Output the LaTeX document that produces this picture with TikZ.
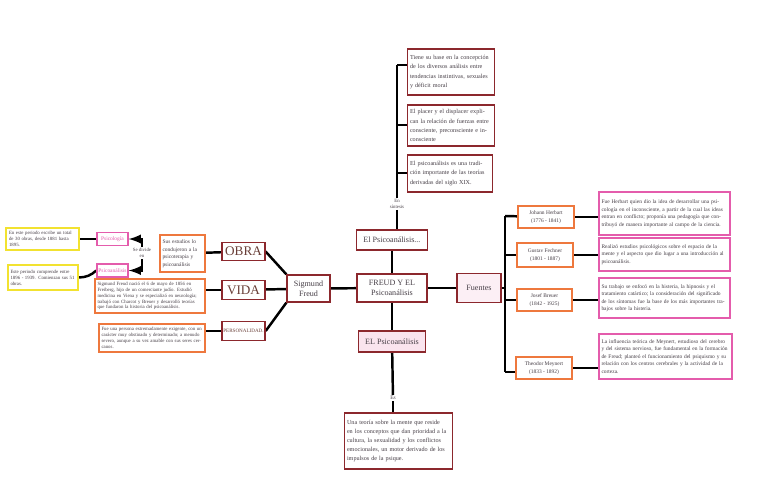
\documentclass[tikz,border=0pt]{standalone}
\usepackage{fontspec}
\setmainfont{Liberation Serif}
\usepackage{tikz}
\pgfdeclarelayer{edgelayer}
\pgfdeclarelayer{nodelayer}
\pgfsetlayers{edgelayer,nodelayer,main}
\definecolor{boxred}{RGB}{140,40,45}
\definecolor{boxorange}{RGB}{238,120,62}
\definecolor{boxpink}{RGB}{228,92,172}
\definecolor{boxyellow}{RGB}{242,226,48}
\definecolor{inkgray}{RGB}{70,62,70}
\definecolor{inkbrown}{RGB}{105,62,55}
\definecolor{psicfill}{RGB}{250,228,238}
\newcommand{\fsa}{\fontsize{3.5}{5.2}\selectfont}
\newcommand{\fsb}{\fontsize{3.1}{4.3}\selectfont}
\newcommand{\fsc}{\fontsize{2.75}{3.35}\selectfont}
\newcommand{\fsd}{\fontsize{4.6}{5.6}\selectfont}
\tikzstyle{edge}=[draw=black, line width=1.4pt]
\tikzstyle{redbox}=[draw=boxred, line width=0.7pt, fill=white, text=inkgray, inner sep=1.5pt, align=left]
\tikzstyle{orangebox}=[draw=boxorange, line width=0.8pt, fill=white, text=inkgray, inner sep=1.5pt, align=left]
\tikzstyle{pinkbox}=[draw=boxpink, line width=0.8pt, fill=white, text=inkgray, inner sep=1.5pt, align=left]
\tikzstyle{yellowbox}=[draw=boxyellow, line width=1pt, fill=white, text=inkgray, inner sep=1.5pt, align=left]
\tikzstyle{label}=[text=inkgray, inner sep=0.6pt, align=center, font=\fsc]

\begin{document}
\begin{tikzpicture}[x=0.02cm, y=-0.02cm]
			\useasboundingbox (0,0) rectangle (768,497);
			\begin{pgfonlayer}{nodelayer}
			% centre column
			\node [style=redbox, align=center, minimum width=1.4cm, minimum height=0.56cm, font=\fsd] (0) at (392, 288) {FREUD Y EL\\Psicoanálisis};
			\node [style=redbox, minimum width=1.42cm, minimum height=0.4cm, font=\fsd] (1) at (392, 240) {El Psicoanálisis...};
			\node [style=label] (2) at (397, 204) {En\\síntesis};
			\node [style=redbox, text width=1.64cm, minimum height=0.92cm, font=\fsa] (3) at (451, 72) {Tiene su base en la concepción de los diversos análisis entre tendencias instintivas, sexuales y déficit moral};
			\node [style=redbox, text width=1.64cm, minimum height=0.82cm, font=\fsa] (4) at (451, 125.5) {El placer y el displacer explican la relación de fuerzas entre consciente, preconsciente e inconsciente};
			\node [style=redbox, text width=1.6cm, minimum height=0.74cm, font=\fsa] (5) at (450, 173.5) {El psicoanálisis es una tradición importante de las teorías derivadas del siglo XIX.};
			\node [style=redbox, fill=psicfill, minimum width=1.34cm, minimum height=0.42cm, font=\fsd] (6) at (392, 341.5) {EL Psicoanálisis};
			\node [style=label, font=\fsb] (7) at (393, 398) {Es};
			\node [style=redbox, text width=2.06cm, minimum height=1.12cm, font=\fsa] (8) at (398.5, 441) {Una teoría sobre la mente que reside en los conceptos que dan prioridad a la cultura, la sexualidad y los conflictos emocionales, un motor derivado de los impulsos de la psique.};
			% left side
			\node [style=redbox, align=center, minimum width=0.86cm, minimum height=0.54cm, font=\fsd] (9) at (308.5, 288.5) {Sigmund\\Freud};
			\node [style=redbox, text=inkbrown, align=center, minimum width=0.86cm, minimum height=0.37cm, font=\fontsize{7.5}{8}\selectfont] (10) at (243.5, 251.5) {OBRA};
			\node [style=redbox, text=inkbrown, align=center, minimum width=0.86cm, minimum height=0.37cm, font=\fontsize{7.5}{8}\selectfont] (11) at (243.5, 290) {VIDA};
			\node [style=redbox, text=inkbrown, align=center, minimum width=0.86cm, minimum height=0.37cm, inner sep=0.8pt, font=\fontsize{2.9}{3.2}\selectfont] (12) at (243.5, 331) {PERSONALIDAD.};
			\node [style=orangebox, text width=0.8cm, minimum height=0.74cm, font=\fsb] (13) at (182.5, 253.5) {Sus estudios lo condujeron a la psicoterapia y psicoanálisis};
			\node [style=orangebox, text width=2.1cm, minimum height=0.68cm, font=\fsc] (14) at (150, 296) {Sigmund Freud nació el 6 de mayo de 1856 en Freiberg, hijo de un comerciante judío. Estudió medicina en Viena y se especializó en neurología; trabajó con Charcot y Breuer y desarrolló teorías que fundaron la historia del psicoanálisis.};
			\node [style=orangebox, text width=2.02cm, minimum height=0.56cm, font=\fsc] (15) at (152, 338) {Fue una persona extremadamente exigente, con un carácter muy obstinado y determinado; a menudo severo, aunque a su vez amable con sus seres cercanos.};
			\node [style=label] (16) at (142, 253) {Se divide\\en};
			\node [style=pinkbox, text=boxpink, align=center, minimum width=0.62cm, minimum height=0.26cm, inner sep=0.5pt, font=\fsb] (17) at (112.5, 239) {Psicología};
			\node [style=pinkbox, text=boxpink, align=center, minimum width=0.62cm, minimum height=0.26cm, inner sep=0.5pt, font=\fsb] (18) at (112.5, 270.5) {Psicoanálisis};
			\node [style=yellowbox, text width=1.34cm, minimum height=0.44cm, font=\fsc] (19) at (42.5, 239) {En este periodo escribe un total de 30 obras, desde 1881 hasta 1895.};
			\node [style=yellowbox, text width=1.3cm, minimum height=0.5cm, font=\fsc] (20) at (43, 277.5) {Este periodo comprende entre 1896 - 1939. Comienzan sus 51 obras.};
			% right side
			\node [style=redbox, fill=psicfill!60, align=center, minimum width=0.88cm, minimum height=0.58cm, font=\fsd] (21) at (479, 288) {Fuentes};
			\node [style=orangebox, align=center, minimum width=1.12cm, minimum height=0.44cm, font=\fsb] (22) at (546, 217) {Johann Herbart\\(1776 - 1841)};
			\node [style=orangebox, align=center, minimum width=1.12cm, minimum height=0.48cm, font=\fsb] (23) at (545, 255) {Gustav Fechner\\(1801 - 1887)};
			\node [style=orangebox, align=center, minimum width=1.1cm, minimum height=0.44cm, font=\fsb] (24) at (544.5, 300) {Josef Breuer\\(1842 - 1925)};
			\node [style=orangebox, align=center, minimum width=1.12cm, minimum height=0.44cm, font=\fsb] (25) at (544, 368) {Theodor Meynert\\(1833 - 1892)};
			\node [style=pinkbox, text width=2.52cm, minimum height=0.86cm, font=\fsb] (26) at (664.5, 213.5) {Fue Herbart quien dio la idea de desarrollar una psicología en el inconsciente, a partir de la cual las ideas entran en conflicto; proponía una pedagogía que contribuyó de manera importante al campo de la ciencia.};
			\node [style=pinkbox, text width=2.52cm, minimum height=0.66cm, font=\fsb] (27) at (664.5, 254.5) {Realizó estudios psicológicos sobre el espacio de la mente y el aspecto que dio lugar a una introducción al psicoanálisis.};
			\node [style=pinkbox, text width=2.52cm, minimum height=0.8cm, font=\fsb] (28) at (664.5, 298) {Su trabajo se enfocó en la histeria, la hipnosis y el tratamiento catártico; la consideración del significado de los síntomas fue la base de los más importantes trabajos sobre la histeria.};
			\node [style=pinkbox, text width=2.56cm, minimum height=0.9cm, font=\fsb] (29) at (665.5, 356.5) {La influencia teórica de Meynert, estudioso del cerebro y del sistema nervioso, fue fundamental en la formación de Freud; planteó el funcionamiento del psiquismo y su relación con los centros cerebrales y la actividad de la corteza.};
			\coordinate (30) at (397, 65);
			\coordinate (31) at (505, 216);
			\coordinate (32) at (505, 372);
			\coordinate (33) at (397, 125);
			\coordinate (34) at (397, 173);
			\end{pgfonlayer}
			\begin{pgfonlayer}{edgelayer}
			\draw [style=edge] (30) to (2);
			\draw [style=edge] (30) to (30 -| 3.west);
			\draw [style=edge] (33) to (33 -| 4.west);
			\draw [style=edge] (34) to (34 -| 5.west);
			\draw [style=edge] (2) to (2 |- 1.north);
			\draw [style=edge] (1) to (0);
			\draw [style=edge] (0) to (6);
			\draw [style=edge] (6) to (7);
			\draw [style=edge] (7) to (7 |- 8.north);
			\draw [style=edge] (0) to (9);
			\draw [style=edge] (0) to (21);
			\draw [style=edge] (10.east) to (9.north west);
			\draw [style=edge] (11) to (9);
			\draw [style=edge] (12.east) to (9.south west);
			\draw [style=edge] (10) to (13);
			\draw [style=edge] (11) to (11 -| 14.east);
			\draw [style=edge] (12) to (12 -| 15.east);
			\draw [style=edge, -latex] (16.north) |- (17);
			\draw [style=edge, -latex] (16.south) |- (18);
			\draw [style=edge] (19) to (17);
			\draw [style=edge, bend right=20] (20.east) to (18.west);
			\draw [style=edge] (21) to (21 -| 31);
			\draw [style=edge] (31) to (32);
			\draw [style=edge] (31) to (22);
			\draw [style=edge] (31 |- 23) to (23);
			\draw [style=edge] (31 |- 24) to (24);
			\draw [style=edge] (32) to (32 -| 25.west);
			\draw [style=edge] (22) to (22 -| 26.west);
			\draw [style=edge] (23) to (23 -| 27.west);
			\draw [style=edge] (24) to (24 -| 28.west);
			\draw [style=edge] (25) to (25 -| 29.west);
			\end{pgfonlayer}
\end{tikzpicture}
\end{document}
